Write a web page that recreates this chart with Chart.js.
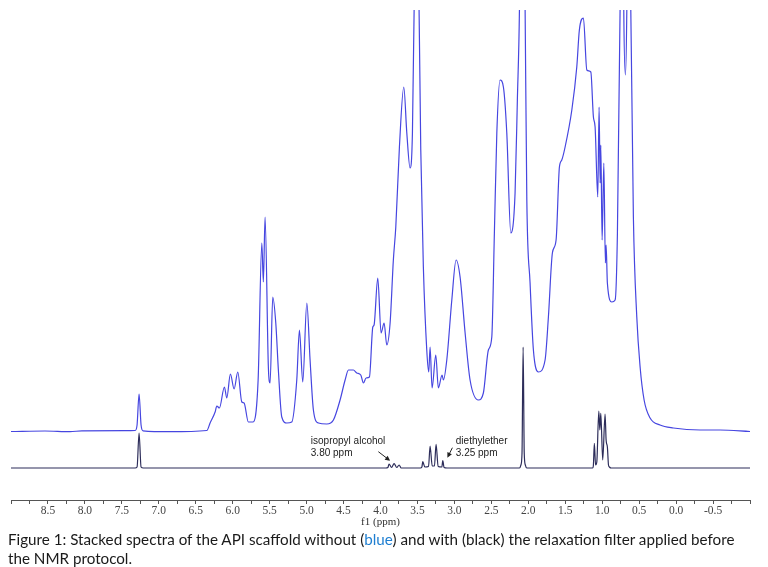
<!DOCTYPE html>
<html>
<head>
<meta charset="utf-8">
<script src="https://cdn.jsdelivr.net/npm/chart.js@4/dist/chart.umd.min.js"></script>
<style>
  html, body { margin: 0; padding: 0; background: #fff; }
  #wrap { position: relative; width: 768px; height: 567px; overflow: hidden; }
  #spectrum { position: absolute; left: 0; top: 0; }
  #caption {
    position: absolute; left: 8px; top: 530px; width: 760px;
    font-family: Lato, "Open Sans", sans-serif; font-size: 15.2px; line-height: 19px;
    color: #1a1a1a; white-space: nowrap;
  }
  #caption span { color: #1f7fd1; }
</style>
</head>
<body>
<div id="wrap">
  <canvas id="spectrum" width="768" height="567"></canvas>
  <div id="caption">Figure 1: Stacked spectra of the API scaffold without (<span>blue</span>) and with (black) the relaxation filter applied before<br>the NMR protocol.</div>
</div>
<script>
// Spectrum without the relaxation filter (blue)
const ppmBlue = [9.00, 8.54, 8.20, 8.04, 7.46, 7.32, 7.294, 7.267, 7.240, 7.213, 6.85, 6.35, 6.306, 6.238, 6.215, 6.180, 6.112, 6.080, 6.031, 5.981,
  5.931, 5.877, 5.846, 5.788, 5.724, 5.656, 5.606, 5.585, 5.562, 5.517, 5.494, 5.458, 5.417, 5.382, 5.336, 5.268, 5.201, 5.133, 5.097, 5.052,
  4.997, 4.953, 4.908, 4.840, 4.727, 4.637, 4.547, 4.479, 4.434, 4.367, 4.321, 4.267, 4.231, 4.195, 4.150, 4.104, 4.087, 4.037, 3.992, 3.951,
  3.915, 3.870, 3.826, 3.793, 3.744, 3.685, 3.644, 3.600, 3.568, 3.545, 3.512, 3.478, 3.455, 3.420, 3.374, 3.347, 3.329, 3.302, 3.252, 3.217,
  3.167, 3.149, 3.103, 3.035, 2.977, 2.923, 2.855, 2.788, 2.675, 2.608, 2.540, 2.494, 2.459, 2.426, 2.382, 2.337, 2.291, 2.237, 2.179, 2.148,
  2.120, 2.084, 2.043, 2.020, 1.976, 1.931, 1.863, 1.773, 1.728, 1.674, 1.624, 1.579, 1.547, 1.502, 1.411, 1.344, 1.309, 1.254, 1.208, 1.154,
  1.119, 1.096, 1.060, 1.042, 1.028, 1.019, 1.001, 0.978, 0.957, 0.947, 0.930, 0.870, 0.825, 0.794, 0.758, 0.731, 0.708, 0.686, 0.667, 0.640,
  0.613, 0.578, 0.532, 0.487, 0.433, 0.352, 0.217, 0.037, -0.325, -0.595, -1.00];
const intBlue = [-0.5, 0, -0.7, 0.2, 0.3, 0.5, 6, 37, 6, 0.2, -0.7, 0.5, 8, 19, 25, 23, 44, 33, 57, 42,
  59, 29, 28, 9, 9, 51, 188, 149, 214, 63, 48, 134, 108, 61, 14, 8, 9, 51, 101, 49,
  128, 71, 21, 8, 7, 11, 31, 51, 61, 61, 58, 56, 48, 53, 54, 104, 106, 153, 98, 108,
  86, 108, 171, 204, 284, 344, 298, 263, 298, 421, 700, 421, 281, 164, 81, 59, 84, 43, 76, 43,
  56, 51, 71, 131, 171, 154, 98, 51, 31, 38, 81, 94, 198, 298, 351, 344, 298, 198, 238, 331,
  421, 700, 421, 231, 148, 81, 59, 71, 114, 178, 191, 264, 271, 284, 321, 364, 401, 413, 361, 359,
  314, 304, 234, 324, 248, 286, 191, 268, 168, 186, 148, 129, 131, 198, 421, 700, 421, 356, 421, 700,
  421, 214, 114, 64, 31, 13, 6, 3, 1, 1, -0.5];

// Spectrum with the relaxation filter (black)
const ppmBlack = [9.00, 7.32, 7.294, 7.267, 7.240, 7.21, 3.93, 3.90, 3.884, 3.85, 3.816, 3.78, 3.748, 3.72, 3.46, 3.44, 3.428, 3.40, 3.35, 3.329,
  3.30, 3.27, 3.248, 3.22, 3.17, 3.157, 3.14, 3.10, 2.12, 2.10, 2.085, 2.070, 2.055, 2.04, 2.02, 1.13, 1.12, 1.106, 1.09, 1.073,
  1.046, 1.032, 1.019, 0.993, 0.961, 0.947, 0.930, 0.915, 0.903, 0.88, -1.00];
const intBlack = [0, 0, 1, 35, 1, 0, 0, 0.5, 4, 0.5, 4.3, 0.5, 3, 0, 0, 1, 6.3, 1, 1.5, 22,
  2, 2, 23.7, 1.5, 1, 7.3, 0.5, 0, 0, 3, 15, 121, 15, 3, 0, 0, 2, 24.7, 3, 6,
  57, 38, 54.7, 8, 54, 28, 21, 3, 1, 0, 0];

// stacking offsets of the two traces
const blueOffset = 69;
const blackOffset = 32;

const notes = [
  { lines: ['isopropyl alcohol', '3.80 ppm'], textPpm: 4.943, tailPpm: 4.029, tailH: 16.3, tipPpm: 3.870, tipH: 7.3 },
  { lines: ['diethylether', '3.25 ppm'], textPpm: 2.981, tailPpm: 3.027, tailH: 20.3, tipPpm: 3.095, tipH: 10.3 }
];

function toPoints(xs, ys, offset) {
  return xs.map((x, i) => ({ x: x, y: ys[i] + offset }));
}

const notePlugin = {
  id: 'notes',
  afterDatasetsDraw(chart) {
    const c = chart.ctx;
    const xs = chart.scales.x, ys = chart.scales.y;
    c.save();
    c.fillStyle = '#222';
    c.strokeStyle = '#222';
    c.font = '10px "Liberation Sans", Arial, sans-serif';
    c.textBaseline = 'middle';
    notes.forEach(n => {
      const tx = xs.getPixelForValue(n.textPpm);
      c.fillText(n.lines[0], tx, ys.getPixelForValue(blackOffset + 26.5));
      c.fillText(n.lines[1], tx, ys.getPixelForValue(blackOffset + 15));
      const x1 = xs.getPixelForValue(n.tailPpm), y1 = ys.getPixelForValue(blackOffset + n.tailH);
      const x2 = xs.getPixelForValue(n.tipPpm), y2 = ys.getPixelForValue(blackOffset + n.tipH);
      const a = Math.atan2(y2 - y1, x2 - x1);
      c.lineWidth = 1;
      c.beginPath();
      c.moveTo(x1, y1);
      c.lineTo(x2 - 3 * Math.cos(a), y2 - 3 * Math.sin(a));
      c.stroke();
      c.beginPath();
      c.moveTo(x2, y2);
      c.lineTo(x2 - 5 * Math.cos(a) + 2.5 * Math.sin(a), y2 - 5 * Math.sin(a) - 2.5 * Math.cos(a));
      c.lineTo(x2 - 5 * Math.cos(a) - 2.5 * Math.sin(a), y2 - 5 * Math.sin(a) + 2.5 * Math.cos(a));
      c.closePath();
      c.fill();
    });
    c.restore();
  }
};

new Chart(document.getElementById('spectrum'), {
  type: 'line',
  data: {
    datasets: [
      {
        label: 'without filter',
        data: toPoints(ppmBlue, intBlue, blueOffset),
        borderColor: '#4646e0',
        borderWidth: 1.2,
        pointRadius: 0,
        cubicInterpolationMode: 'monotone'
      },
      {
        label: 'with filter',
        data: toPoints(ppmBlack, intBlack, blackOffset),
        borderColor: '#2d2d5a',
        borderWidth: 1.2,
        pointRadius: 0,
        cubicInterpolationMode: 'monotone'
      }
    ]
  },
  options: {
    responsive: false,
    animation: false,
    events: [],
    layout: { padding: { left: 11, right: 18, top: 10, bottom: 37 } },
    plugins: { legend: { display: false }, tooltip: { enabled: false } },
    scales: {
      x: {
        type: 'linear',
        reverse: true,
        min: -1,
        max: 9,
        afterFit: (s) => { s.height = 30; },
        grid: { drawOnChartArea: false, drawTicks: true, tickLength: 4, color: '#555' },
        border: { display: true, color: '#555', width: 1 },
        ticks: {
          stepSize: 0.25,
          autoSkip: false,
          maxRotation: 0,
          padding: 0,
          color: '#444',
          font: { family: '"Liberation Serif", "DejaVu Serif", serif', size: 11.5 },
          callback: (v) => {
            if (v >= 8.99 || v <= -0.99) return '';
            return Math.abs(v * 2 - Math.round(v * 2)) < 1e-6 ? v.toFixed(1) : '';
          }
        },
        title: {
          display: true,
          text: 'f1 (ppm)',
          color: '#333',
          padding: { top: 0, bottom: 1.4 },
          font: { family: '"Liberation Serif", "DejaVu Serif", serif', size: 11 }
        }
      },
      y: {
        display: false,
        min: 0,
        max: 490
      }
    }
  },
  plugins: [notePlugin]
});
</script>
</body>
</html>
